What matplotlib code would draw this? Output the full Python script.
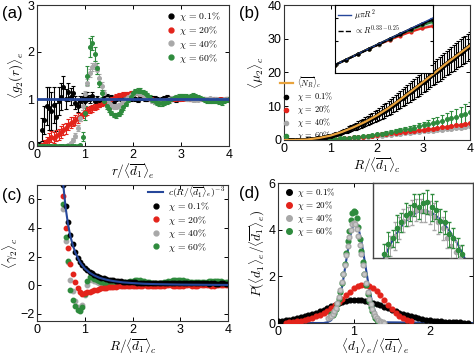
import numpy as np
import matplotlib
matplotlib.use('Agg')
import matplotlib.pyplot as plt
from matplotlib.lines import Line2D

plt.rcParams['font.family'] = ['Liberation Sans', 'DejaVu Sans']
plt.rcParams['mathtext.fontset'] = 'cm'

# ---------------- data ----------------
labels = [r'$\chi\,=\,0.1\%$', r'$\chi\,=\,20\%$', r'$\chi\,=\,40\%$', r'$\chi\,=\,60\%$']

# panel (a): g2(r)
a_r = np.round(np.arange(1, 81) * 0.05, 2)
a_blk = [0.03, 0.35, 0.55, 0.85, 0.80, 0.75, 0.88, 0.62, 0.95, 1.05,
         1.25, 1.00, 1.15, 1.05, 1.12, 0.92, 0.85, 0.95, 1.02, 0.95,
         1.05, 1.00, 1.06, 0.96, 1.00, 0.90, 0.95, 1.02, 1.06, 1.00,
         1.04, 0.96, 1.00, 1.05, 1.00, 0.97, 1.00, 1.04, 1.00, 1.02,
         1.00, 0.98, 1.02, 1.03, 1.00, 0.99, 1.01, 1.03, 1.02, 1.00,
         0.98, 1.00, 1.02, 1.04, 1.02, 1.00, 0.99, 0.98, 1.00, 1.01,
         1.02, 1.00, 0.99, 1.00, 1.01, 1.00, 0.99, 1.00, 1.01, 1.00,
         0.99, 1.00, 1.00, 1.01, 1.00, 0.99, 1.00, 1.00, 1.01, 1.00]
a_blk_e = [0.05, 0.25, 0.30, 0.40, 0.45, 0.40, 0.38, 0.30, 0.30, 0.28,
           0.25, 0.22, 0.20, 0.18, 0.15, 0.14, 0.12, 0.12, 0.10, 0.10,
           0.09, 0.08, 0.08, 0.07, 0.07, 0.06, 0.06, 0.06, 0.05, 0.05,
           0.05, 0.05, 0.05, 0.05, 0.05, 0.05, 0.05, 0.05, 0.05, 0.05,
           0.04, 0.04, 0.04, 0.04, 0.04, 0.04, 0.04, 0.04, 0.04, 0.04,
           0.04, 0.04, 0.04, 0.04, 0.04, 0.04, 0.04, 0.04, 0.04, 0.04,
           0.03, 0.03, 0.03, 0.03, 0.03, 0.03, 0.03, 0.03, 0.03, 0.03,
           0.03, 0.03, 0.03, 0.03, 0.03, 0.03, 0.03, 0.03, 0.03, 0.03]
a_red = [0.00, 0.02, 0.05, 0.10, 0.15, 0.20, 0.18, 0.22, 0.25, 0.30,
         0.35, 0.38, 0.45, 0.50, 0.52, 0.55, 0.60, 0.62, 0.68, 0.72,
         0.75, 0.78, 0.80, 0.83, 0.85, 0.88, 0.90, 0.93, 0.95, 0.98,
         1.00, 1.03, 1.06, 1.08, 1.09, 1.10, 1.10, 1.11, 1.12, 1.13,
         1.13, 1.12, 1.10, 1.08, 1.06, 1.03, 1.01, 0.99, 0.97, 0.96,
         0.96, 0.96, 0.97, 0.98, 0.98, 0.99, 1.00, 1.00, 1.00, 1.01,
         1.01, 1.00, 1.00, 0.99, 0.99, 1.00, 1.00, 1.01, 1.00, 0.99,
         0.99, 1.00, 1.00, 1.00, 0.99, 1.00, 1.00, 1.00, 1.01, 1.00]
a_red_e = [0.01, 0.05, 0.08, 0.10, 0.12, 0.12, 0.12, 0.12, 0.12, 0.12,
           0.12, 0.12, 0.12, 0.11, 0.10, 0.10, 0.10, 0.09, 0.09, 0.08,
           0.08, 0.07, 0.07, 0.06, 0.06, 0.06, 0.05, 0.05, 0.05, 0.05,
           0.04, 0.04, 0.04, 0.04, 0.04, 0.04, 0.04, 0.04, 0.04, 0.04,
           0.04, 0.04, 0.04, 0.04, 0.04, 0.04, 0.04, 0.04, 0.04, 0.04,
           0.03, 0.03, 0.03, 0.03, 0.03, 0.03, 0.03, 0.03, 0.03, 0.03,
           0.03, 0.03, 0.03, 0.03, 0.03, 0.03, 0.03, 0.03, 0.03, 0.03,
           0.03, 0.03, 0.03, 0.03, 0.03, 0.03, 0.03, 0.03, 0.03, 0.03]
a_gry = [0.00, 0.00, 0.00, 0.00, 0.00, 0.00, 0.00, 0.00, 0.00, 0.00,
         0.00, 0.01, 0.03, 0.06, 0.12, 0.22, 0.38, 0.60, 0.85, 1.10,
         1.35, 1.55, 1.68, 1.72, 1.62, 1.45, 1.28, 1.12, 1.00, 0.92,
         0.86, 0.84, 0.84, 0.86, 0.90, 0.95, 1.00, 1.05, 1.08, 1.10,
         1.12, 1.12, 1.10, 1.08, 1.05, 1.02, 0.99, 0.96, 0.94, 0.93,
         0.93, 0.94, 0.96, 0.98, 1.00, 1.02, 1.03, 1.04, 1.04, 1.03,
         1.02, 1.01, 1.00, 0.99, 0.98, 0.98, 0.98, 0.99, 1.00, 1.01,
         1.01, 1.02, 1.01, 1.00, 0.99, 0.98, 0.98, 0.99, 1.00, 1.00]
a_gry_e = [0.00, 0.00, 0.00, 0.00, 0.00, 0.00, 0.00, 0.00, 0.00, 0.00,
           0.00, 0.01, 0.02, 0.03, 0.04, 0.05, 0.06, 0.07, 0.08, 0.08,
           0.08, 0.08, 0.08, 0.08, 0.08, 0.08, 0.08, 0.08, 0.08, 0.08,
           0.06, 0.06, 0.06, 0.06, 0.06, 0.06, 0.06, 0.06, 0.06, 0.06,
           0.04, 0.04, 0.04, 0.04, 0.04, 0.04, 0.04, 0.04, 0.04, 0.04,
           0.03, 0.03, 0.03, 0.03, 0.03, 0.03, 0.03, 0.03, 0.03, 0.03,
           0.03, 0.03, 0.03, 0.03, 0.03, 0.03, 0.03, 0.03, 0.03, 0.03,
           0.03, 0.03, 0.03, 0.03, 0.03, 0.03, 0.03, 0.03, 0.03, 0.03]
a_grn = [0.00, 0.00, 0.00, 0.00, 0.00, 0.00, 0.00, 0.00, 0.00, 0.00,
         0.00, 0.00, 0.00, 0.00, 0.00, 0.00, 0.00, 0.02, 0.20, 0.70,
         1.50, 2.10, 2.20, 1.95, 1.65, 1.35, 1.12, 0.95, 0.85, 0.78,
         0.70, 0.66, 0.65, 0.68, 0.74, 0.82, 0.90, 0.98, 1.05, 1.12,
         1.16, 1.18, 1.18, 1.15, 1.12, 1.08, 1.03, 0.98, 0.95, 0.92,
         0.91, 0.91, 0.92, 0.94, 0.97, 1.00, 1.02, 1.04, 1.05, 1.06,
         1.06, 1.05, 1.04, 1.06, 1.07, 1.06, 1.04, 1.02, 1.00, 0.98,
         0.97, 0.96, 0.96, 0.96, 0.97, 0.95, 0.93, 0.96, 0.98, 1.00]
a_grn_e = [0.00, 0.00, 0.00, 0.00, 0.00, 0.00, 0.00, 0.00, 0.00, 0.00,
           0.00, 0.00, 0.00, 0.00, 0.00, 0.00, 0.00, 0.02, 0.10, 0.15,
           0.20, 0.20, 0.15, 0.15, 0.12, 0.10, 0.08, 0.06, 0.06, 0.05,
           0.05, 0.05, 0.05, 0.05, 0.05, 0.05, 0.05, 0.05, 0.05, 0.05,
           0.05, 0.05, 0.05, 0.05, 0.05, 0.05, 0.05, 0.05, 0.05, 0.05,
           0.05, 0.05, 0.05, 0.05, 0.05, 0.05, 0.05, 0.05, 0.05, 0.05,
           0.05, 0.05, 0.05, 0.05, 0.05, 0.05, 0.05, 0.05, 0.05, 0.05,
           0.05, 0.05, 0.05, 0.05, 0.05, 0.05, 0.05, 0.05, 0.05, 0.05]
a_line_x = [0.0, 4.0]
a_line_y = [1.0, 1.0]

# panel (b): number variance
b_nr_x = [0, 0.25, 0.5, 0.75, 1.0, 1.25, 1.5, 1.75, 2.0, 2.25, 2.5, 2.75, 3.0, 3.25, 3.5, 3.75, 4.0]
b_nr_y = [0, 0.02, 0.15, 0.6, 1.3, 2.4, 3.8, 5.4, 7.3, 9.5, 12.0, 14.6, 17.3, 20.0, 22.8, 25.4, 28.0]
b_x_fine = np.round(np.arange(1, 81) * 0.05, 2)
b_blk = [0.0, 0.0, 0.01, 0.02, 0.03, 0.05, 0.07, 0.10, 0.12, 0.15,
         0.20, 0.27, 0.35, 0.45, 0.60, 0.72, 0.85, 0.98, 1.12, 1.30,
         1.50, 1.70, 1.92, 2.15, 2.40, 2.65, 2.92, 3.20, 3.50, 3.80,
         4.10, 4.42, 4.75, 5.08, 5.42, 5.78, 6.15, 6.52, 6.90, 7.30,
         7.72, 8.15, 8.58, 9.02, 9.48, 9.95, 10.45, 10.95, 11.45, 12.0,
         12.5, 13.0, 13.55, 14.1, 14.6, 15.15, 15.7, 16.2, 16.75, 17.3,
         17.85, 18.4, 18.95, 19.5, 20.0, 20.55, 21.1, 21.7, 22.25, 22.8,
         23.3, 23.85, 24.35, 24.85, 25.4, 25.9, 26.45, 26.95, 27.5, 28.0]
b_blk_e = [0.01, 0.01, 0.01, 0.02, 0.02, 0.03, 0.03, 0.04, 0.05, 0.06,
           0.07, 0.09, 0.11, 0.13, 0.16, 0.19, 0.22, 0.26, 0.30, 0.35,
           0.40, 0.45, 0.50, 0.56, 0.62, 0.68, 0.75, 0.82, 0.90, 0.98,
           1.05, 1.12, 1.20, 1.28, 1.35, 1.42, 1.50, 1.58, 1.65, 1.72,
           1.80, 1.88, 1.95, 2.02, 2.10, 2.18, 2.25, 2.32, 2.40, 2.48,
           2.55, 2.62, 2.70, 2.78, 2.85, 2.92, 3.00, 3.05, 3.10, 3.15,
           3.20, 3.25, 3.30, 3.35, 3.40, 3.45, 3.50, 3.55, 3.60, 3.65,
           3.70, 3.75, 3.80, 3.85, 3.90, 3.95, 4.00, 4.00, 4.00, 4.00]
b_x = np.round(np.arange(1, 41) * 0.1, 1)
b_red = [0.0, 0.0, 0.0, 0.01, 0.02, 0.04, 0.07, 0.12, 0.18, 0.25,
         0.33, 0.42, 0.52, 0.63, 0.75, 0.88, 1.02, 1.17, 1.32, 1.48,
         1.63, 1.78, 1.93, 2.08, 2.23, 2.38, 2.53, 2.68, 2.83, 3.00,
         3.18, 3.36, 3.55, 3.74, 3.93, 4.12, 4.32, 4.52, 4.75, 5.00]
b_red_e = [0.0, 0.0, 0.0, 0.01, 0.01, 0.02, 0.03, 0.04, 0.05, 0.06,
           0.07, 0.08, 0.09, 0.10, 0.11, 0.12, 0.13, 0.14, 0.15, 0.16,
           0.17, 0.18, 0.19, 0.20, 0.21, 0.22, 0.23, 0.24, 0.25, 0.26,
           0.27, 0.28, 0.29, 0.30, 0.31, 0.32, 0.33, 0.34, 0.35, 0.36]
b_gry = [0.0, 0.0, 0.0, 0.01, 0.02, 0.03, 0.05, 0.08, 0.12, 0.17,
         0.23, 0.30, 0.38, 0.47, 0.57, 0.68, 0.80, 0.92, 1.05, 1.18,
         1.31, 1.44, 1.57, 1.70, 1.83, 1.96, 2.10, 2.24, 2.38, 2.52,
         2.66, 2.80, 2.95, 3.10, 3.25, 3.40, 3.55, 3.70, 3.85, 4.00]
b_gry_e = [0.0, 0.0, 0.0, 0.01, 0.01, 0.02, 0.03, 0.04, 0.05, 0.06,
           0.07, 0.08, 0.09, 0.10, 0.11, 0.12, 0.13, 0.14, 0.15, 0.16,
           0.17, 0.18, 0.19, 0.20, 0.21, 0.22, 0.23, 0.24, 0.25, 0.26,
           0.27, 0.28, 0.29, 0.30, 0.31, 0.32, 0.33, 0.34, 0.35, 0.36]
b_grn = [0.0, 0.0, 0.0, 0.01, 0.02, 0.04, 0.07, 0.12, 0.18, 0.26,
         0.35, 0.45, 0.56, 0.68, 0.82, 0.97, 1.13, 1.30, 1.48, 1.68,
         1.90, 2.12, 2.36, 2.60, 2.86, 3.12, 3.40, 3.70, 4.00, 4.35,
         4.70, 5.05, 5.40, 5.75, 6.10, 6.50, 6.90, 7.30, 7.80, 8.30]
b_grn_e = [0.0, 0.0, 0.0, 0.01, 0.02, 0.03, 0.04, 0.05, 0.06, 0.08,
           0.10, 0.12, 0.14, 0.16, 0.18, 0.20, 0.23, 0.26, 0.30, 0.34,
           0.38, 0.43, 0.48, 0.54, 0.60, 0.68, 0.76, 0.85, 0.95, 1.10,
           1.25, 1.40, 1.55, 1.70, 1.90, 2.10, 2.30, 2.55, 2.80, 3.00]
# inset (b), log-log
bi_fit_x = [1.0, 10.0]
bi_fit_y = [1.0, 100.0]
bi_dash_x = [1.0, 10.0]
bi_dash_y = [1.0, 85.0]
bi_x = [1.0, 1.3, 1.7, 2.2, 2.8, 3.6, 4.6, 6.0, 7.7, 10.0]
bi_blk = [1.0, 1.69, 2.89, 4.84, 7.84, 13.0, 21.0, 35.0, 57.0, 84.0]
bi_red = [1.0, 1.69, 2.89, 4.84, 7.5, 11.5, 17.5, 26.0, 36.0, 45.0]
bi_gry = [1.0, 1.69, 2.89, 4.84, 7.4, 11.8, 18.0, 27.5, 39.0, 50.0]
bi_grn = [1.0, 1.69, 2.89, 4.84, 7.7, 12.6, 20.0, 32.0, 48.0, 68.0]

# panel (c): gamma2
c_x = np.round(np.arange(11, 81) * 0.05, 2)
c_fit_x = [0.55, 0.6, 0.65, 0.7, 0.75, 0.8, 0.9, 1.0, 1.1, 1.2, 1.3, 1.4, 1.5, 1.6, 1.8, 2.0, 2.25, 2.5, 3.0, 3.5, 4.0]
c_fit_y = [7.0, 5.4, 4.25, 3.4, 2.8, 2.3, 1.6, 1.17, 0.88, 0.68, 0.53, 0.43, 0.35, 0.29, 0.2, 0.15, 0.1, 0.075, 0.045, 0.03, 0.02]
c_blk = [7.0, 5.5, 4.4, 3.5, 2.85, 2.3, 1.9, 1.6, 1.38, 1.2,
         1.05, 0.92, 0.82, 0.72, 0.65, 0.58, 0.52, 0.47, 0.43, 0.39,
         0.36, 0.33, 0.31, 0.29, 0.27, 0.25, 0.24, 0.22, 0.21, 0.20,
         0.19, 0.18, 0.18, 0.17, 0.17, 0.16, 0.16, 0.15, 0.15, 0.15,
         0.14, 0.14, 0.14, 0.13, 0.13, 0.13, 0.14, 0.14, 0.13, 0.13,
         0.13, 0.12, 0.12, 0.13, 0.13, 0.12, 0.12, 0.12, 0.12, 0.12,
         0.12, 0.11, 0.12, 0.12, 0.11, 0.11, 0.12, 0.12, 0.11, 0.11]
c_red = [6.2, 4.0, 2.6, 1.5, 0.75, 0.2, -0.2, -0.5, -0.6, -0.55,
         -0.5, -0.45, -0.4, -0.35, -0.3, -0.25, -0.22, -0.2, -0.18, -0.15,
         -0.13, -0.12, -0.1, -0.09, -0.08, -0.07, -0.06, -0.05, -0.05, -0.04,
         -0.04, -0.03, -0.03, -0.03, -0.02, -0.03, -0.03, -0.04, -0.04, -0.04,
         -0.04, -0.03, -0.03, -0.02, -0.02, -0.02, -0.03, -0.03, -0.03, -0.03,
         -0.03, -0.02, -0.02, -0.02, -0.03, -0.03, -0.03, -0.02, -0.02, -0.02,
         -0.02, -0.02, -0.03, -0.03, -0.02, -0.02, -0.02, -0.02, -0.02, -0.02]
c_gry = [5.3, 3.1, 1.6, 0.35, -0.4, -1.1, -1.5, -1.7, -1.4, -0.7,
         0.0, 0.35, 0.4, 0.3, 0.2, 0.15, 0.1, 0.06, 0.04, 0.03,
         0.03, 0.04, 0.05, 0.06, 0.08, 0.1, 0.12, 0.14, 0.16, 0.18,
         0.2, 0.2, 0.19, 0.17, 0.15, 0.13, 0.11, 0.1, 0.09, 0.09,
         0.1, 0.12, 0.14, 0.16, 0.18, 0.2, 0.21, 0.22, 0.22, 0.21,
         0.2, 0.19, 0.17, 0.15, 0.14, 0.13, 0.12, 0.12, 0.13, 0.14,
         0.15, 0.16, 0.17, 0.18, 0.18, 0.18, 0.17, 0.16, 0.16, 0.16]
c_grn = [5.7, 3.4, 1.7, -0.35, -1.0, -1.45, -1.7, -1.8, -1.5, -0.6,
         0.3, 0.6, 0.55, 0.45, 0.35, 0.28, 0.22, 0.18, 0.15, 0.13,
         0.12, 0.12, 0.13, 0.14, 0.16, 0.18, 0.2, 0.24, 0.28, 0.32,
         0.35, 0.36, 0.35, 0.32, 0.28, 0.24, 0.2, 0.16, 0.14, 0.13,
         0.14, 0.16, 0.2, 0.24, 0.28, 0.32, 0.35, 0.36, 0.36, 0.35,
         0.33, 0.3, 0.27, 0.24, 0.22, 0.2, 0.19, 0.19, 0.2, 0.22,
         0.24, 0.26, 0.27, 0.28, 0.28, 0.27, 0.26, 0.25, 0.25, 0.25]

# panel (d): size distribution
d_blk_x = np.round(np.arange(0, 51) * 0.05, 2)
d_blk = [0.10, 0.10, 0.12, 0.14, 0.17, 0.20, 0.24, 0.28, 0.33, 0.38,
         0.44, 0.50, 0.57, 0.64, 0.71, 0.78, 0.85, 0.90, 0.95, 0.98,
         1.00, 1.00, 0.98, 0.95, 0.92, 0.87, 0.82, 0.76, 0.70, 0.63,
         0.56, 0.50, 0.44, 0.38, 0.33, 0.28, 0.24, 0.20, 0.17, 0.14,
         0.12, 0.10, 0.08, 0.07, 0.06, 0.05, 0.04, 0.03, 0.03, 0.02, 0.02]
d_red_x = np.round(np.arange(2, 36) * 0.05, 2)
d_red = [0.02, 0.03, 0.05, 0.07, 0.10, 0.13, 0.17, 0.22, 0.28, 0.35,
         0.43, 0.53, 0.64, 0.77, 0.90, 1.05, 1.20, 1.35, 1.48, 1.58,
         1.65, 1.65, 1.60, 1.50, 1.36, 1.18, 0.98, 0.78, 0.60, 0.44,
         0.30, 0.20, 0.12, 0.07]
d_gry_x = np.round(np.arange(33, 71) * 0.02, 2)
d_gry = [0.20, 0.25, 0.30, 0.40, 0.50, 0.65, 0.85, 1.10, 1.40, 1.75,
         2.10, 2.50, 2.90, 3.30, 3.70, 4.00, 4.25, 4.30, 4.25, 4.05,
         3.75, 3.35, 2.95, 2.50, 2.10, 1.70, 1.35, 1.05, 0.80, 0.60,
         0.45, 0.32, 0.22, 0.15, 0.10, 0.06, 0.04, 0.02]
d_grn_x = np.round(np.arange(35, 67) * 0.02, 2)
d_grn = [0.40, 0.35, 0.45, 0.60, 0.80, 1.05, 1.35, 1.70, 2.10, 2.55,
         3.00, 3.50, 3.95, 4.40, 4.70, 4.80, 4.75, 4.50, 4.10, 3.60,
         3.10, 2.60, 2.10, 1.65, 1.25, 0.95, 0.70, 0.50, 0.35, 0.22,
         0.14, 0.08]
d_fit_x = [0.0, 0.6, 0.65, 0.7, 0.75, 0.8, 0.85, 0.9, 0.95, 1.0, 1.05, 1.1, 1.15, 1.2, 1.25, 1.3, 1.35, 1.4, 2.56]
d_fit_y = [0.0, 0.0, 0.03, 0.12, 0.35, 0.85, 1.65, 2.7, 3.7, 4.3, 4.2, 3.5, 2.5, 1.5, 0.75, 0.3, 0.1, 0.03, 0.0]
# inset (d): zoom of the peak
di_fit_x = [0.91, 0.93, 0.95, 0.97, 0.99, 1.005, 1.02, 1.04, 1.06, 1.08, 1.10]
di_fit_y = [3.40, 3.85, 4.20, 4.45, 4.58, 4.60, 4.55, 4.38, 4.10, 3.75, 3.30]
di_grn_x = [0.91, 0.92, 0.93, 0.94, 0.95, 0.96, 0.97, 0.98, 0.99, 1.00,
            1.01, 1.02, 1.03, 1.04, 1.05, 1.06, 1.07, 1.08, 1.09]
di_grn = [3.50, 3.75, 3.90, 4.15, 4.30, 4.50, 4.55, 4.75, 4.70, 4.80,
          4.82, 4.68, 4.62, 4.35, 4.30, 4.00, 3.90, 3.60, 3.50]
di_grn_e = [0.25, 0.30, 0.22, 0.35, 0.25, 0.30, 0.20, 0.28, 0.32, 0.25,
            0.30, 0.35, 0.22, 0.30, 0.28, 0.32, 0.25, 0.30, 0.22]
di_gry_x = [0.915, 0.925, 0.935, 0.945, 0.955, 0.965, 0.975, 0.985, 0.995,
            1.005, 1.015, 1.025, 1.035, 1.045, 1.055, 1.065, 1.075, 1.085]
di_gry = [3.45, 3.70, 3.95, 4.15, 4.35, 4.45, 4.55, 4.62, 4.60,
          4.58, 4.55, 4.45, 4.30, 4.15, 3.90, 3.70, 3.55, 3.40]
di_gry_e = [0.30, 0.25, 0.35, 0.28, 0.30, 0.25, 0.32, 0.28, 0.30,
            0.26, 0.30, 0.35, 0.28, 0.30, 0.25, 0.32, 0.28, 0.30]

# ---------------- style ----------------
BLK, RED, GRY, GRN = '#000000', '#e3231b', '#a8a8a8', '#2e8b3d'
BLUE, ORG = '#26479a', '#e8a33d'
COLS = [BLK, RED, GRY, GRN]
LFS = 9.5

fig = plt.figure(figsize=(4.74, 3.55), dpi=100)


def px_axes(l, t, r, b):
    return fig.add_axes([l / 474, 1 - b / 355, (r - l) / 474, (b - t) / 355])


def style(ax):
    ax.tick_params(direction='in', top=True, right=True, length=3, width=0.7,
                   labelsize=9, pad=2)
    for s in ax.spines.values():
        s.set_linewidth(0.8)
        s.set_color('#333333')


def chi_handles(ms=3.5):
    return [Line2D([], [], ls='none', marker='o', ms=ms, color=c, label=l)
            for c, l in zip(COLS, labels)]


eb = dict(fmt='o', ms=2.6, elinewidth=0.8, capsize=1.3, capthick=0.8)

# ---------- (a) ----------
ax = px_axes(37, 5, 229, 146)
style(ax)
for y, e, c in [(a_blk, a_blk_e, BLK), (a_red, a_red_e, RED),
                (a_gry, a_gry_e, GRY), (a_grn, a_grn_e, GRN)]:
    ax.errorbar(a_r, y, yerr=e, color=c, **eb)
ax.plot(a_line_x, a_line_y, color=BLUE, lw=2.0, zorder=5)
ax.set_xlim(0, 4)
ax.set_ylim(0, 3)
ax.set_xticks([0, 1, 2, 3, 4])
ax.set_yticks([0, 1, 2, 3])
ax.set_xlabel(r'$r/\langle\overline{d_1}\rangle_e$', fontsize=LFS, labelpad=0)
ax.set_ylabel(r'$\langle g_2(r)\rangle_e$', fontsize=LFS, labelpad=1)
ax.legend(handles=chi_handles(), loc='upper right', bbox_to_anchor=(1.0, 1.02),
          frameon=False, fontsize=7, handlelength=0.8, handletextpad=0.5,
          labelspacing=0.1, borderpad=0.3)
fig.text(2 / 474, 1 - 18 / 355, '(a)', fontsize=12)

# ---------- (b) ----------
ax = px_axes(284, 5, 470, 140)
style(ax)
ax.errorbar(b_x, b_gry, yerr=b_gry_e, color=GRY, **eb)
ax.errorbar(b_x, b_red, yerr=b_red_e, color=RED, **eb)
ax.errorbar(b_x, b_grn, yerr=b_grn_e, color=GRN, **eb)
ax.errorbar(b_x_fine, b_blk, yerr=b_blk_e, color=BLK, **eb)
ax.plot(b_nr_x, b_nr_y, color=ORG, lw=1.6, zorder=6)
ax.set_xlim(0, 4)
ax.set_ylim(0, 40)
ax.set_xticks([0, 1, 2, 3, 4])
ax.set_yticks([0, 10, 20, 30, 40])
ax.set_xlabel(r'$R/\langle\overline{d_1}\rangle_c$', fontsize=LFS, labelpad=0)
ax.set_ylabel(r'$\langle\mu_2\rangle_c$', fontsize=LFS, labelpad=1)
hb = [Line2D([], [], color=ORG, lw=1.6, label=r'$\langle\overline{N_R}\rangle_c$')] + chi_handles(3)
ax.legend(handles=hb, loc='upper left', bbox_to_anchor=(-0.03, 0.5),
          frameon=False, fontsize=6, handlelength=1.5, handletextpad=0.5,
          labelspacing=0.0, handleheight=0.5, borderpad=0.0, borderaxespad=0.2)
fig.text(239 / 474, 1 - 18 / 355, '(b)', fontsize=12)

# inset (b)
axi = px_axes(335, 5, 433, 73)
axi.set_xscale('log')
axi.set_yscale('log')
for y, c in [(bi_gry, GRY), (bi_red, RED), (bi_grn, GRN), (bi_blk, BLK)]:
    axi.plot(bi_x, y, 'o-', color=c, ms=2, lw=1.5)
axi.plot(bi_fit_x, bi_fit_y, color=BLUE, lw=1.0, label=r'$\mu\pi R^2$')
axi.plot(bi_dash_x, bi_dash_y, color='k', lw=1.0, ls='--', label=r'$\propto R^{0.33-0.25}$')
axi.set_xlim(1, 10)
axi.set_ylim(0.457, 355)
axi.tick_params(which='both', direction='in', top=True, right=True, length=2,
                labelbottom=False, labelleft=False)
axi.minorticks_off()
for s in axi.spines.values():
    s.set_linewidth(0.8)
axi.legend(loc='upper left', frameon=False, fontsize=6, handlelength=1.6,
           handletextpad=0.4, labelspacing=0.1, borderpad=0.2,
           borderaxespad=0.1)

# ---------- (c) ----------
ax = px_axes(37, 185, 228, 321)
style(ax)
ms_c = 3.2
ax.plot(c_x, c_gry, 'o', color=GRY, ms=ms_c)
ax.plot(c_x, c_grn, 'o', color=GRN, ms=ms_c)
ax.plot(c_x, c_red, 'o', color=RED, ms=ms_c)
ax.plot(c_x, c_blk, 'o', color=BLK, ms=ms_c)
ax.plot(c_fit_x, c_fit_y, color=BLUE, lw=1.5, zorder=5)
ax.set_xlim(0, 4)
ax.set_ylim(-2.5, 7)
ax.set_xticks([0, 1, 2, 3, 4])
ax.set_yticks([-2, 0, 2, 4, 6])
ax.set_xlabel(r'$R/\langle\overline{d_1}\rangle_c$', fontsize=LFS, labelpad=0)
ax.set_ylabel(r'$\langle\gamma_2\rangle_c$', fontsize=LFS, labelpad=0)
hc = [Line2D([], [], color=BLUE, lw=1.5,
             label=r'$c(R/\langle\overline{d_1}\rangle_e)^{-3}$')] + chi_handles(3.5)
ax.legend(handles=hc, loc='upper right', bbox_to_anchor=(1.02, 1.06),
          frameon=False, fontsize=7, handlelength=1.5, handletextpad=0.5,
          labelspacing=0.05, borderpad=0.2)
fig.text(2 / 474, 1 - 200 / 355, '(c)', fontsize=12)

# ---------- (d) ----------
ax = px_axes(278, 183, 473, 323)
style(ax)
ax.plot(d_fit_x, d_fit_y, color=BLUE, lw=1.5, zorder=1)
ax.plot(d_blk_x, d_blk, 'o', color=BLK, ms=3.4, zorder=3)
ax.plot(d_red_x, d_red, 'o', color=RED, ms=3.4, zorder=3)
ax.plot(d_grn_x, d_grn, 'o', color=GRN, ms=3.4, zorder=3)
ax.plot(d_gry_x, d_gry, 'o', color=GRY, ms=3.4, mfc='#c8c8c8', mec=GRY, zorder=4)
ax.set_xlim(0, 2.57)
ax.set_ylim(0, 6)
ax.set_xticks([0, 1, 2])
ax.set_yticks([0, 2, 4, 6])
ax.set_xlabel(r'$\langle d_1\rangle_e/\langle\overline{d_1}\rangle_e$', fontsize=LFS, labelpad=-1)
ax.set_ylabel(r'$P(\langle d_1\rangle_e/\langle\overline{d_1}\rangle_e)$', fontsize=LFS, labelpad=1)
ax.legend(handles=chi_handles(4), loc='upper left', bbox_to_anchor=(0.0, 1.03),
          frameon=False, fontsize=6.5, handlelength=0.8, handletextpad=0.5,
          labelspacing=0.0, borderpad=0.3)
fig.text(239 / 474, 1 - 198 / 355, '(d)', fontsize=12)

# inset (d)
axi = px_axes(373, 183, 473, 258)
axi.plot(di_fit_x, di_fit_y, color=BLUE, lw=1.5, zorder=2)
axi.errorbar(di_gry_x, di_gry, yerr=di_gry_e, color=GRY, fmt='o', ms=3,
             elinewidth=0.7, capsize=1.2, zorder=3)
axi.errorbar(di_grn_x, di_grn, yerr=di_grn_e, color=GRN, fmt='o', ms=3,
             elinewidth=0.7, capsize=1.2, zorder=4)
axi.set_xlim(0.885, 1.115)
axi.set_ylim(3.4, 5.3)
axi.set_xticks([])
axi.set_yticks([])
for s in axi.spines.values():
    s.set_linewidth(1.0)
    s.set_color('#444444')

fig.savefig('out.png', dpi=100)
